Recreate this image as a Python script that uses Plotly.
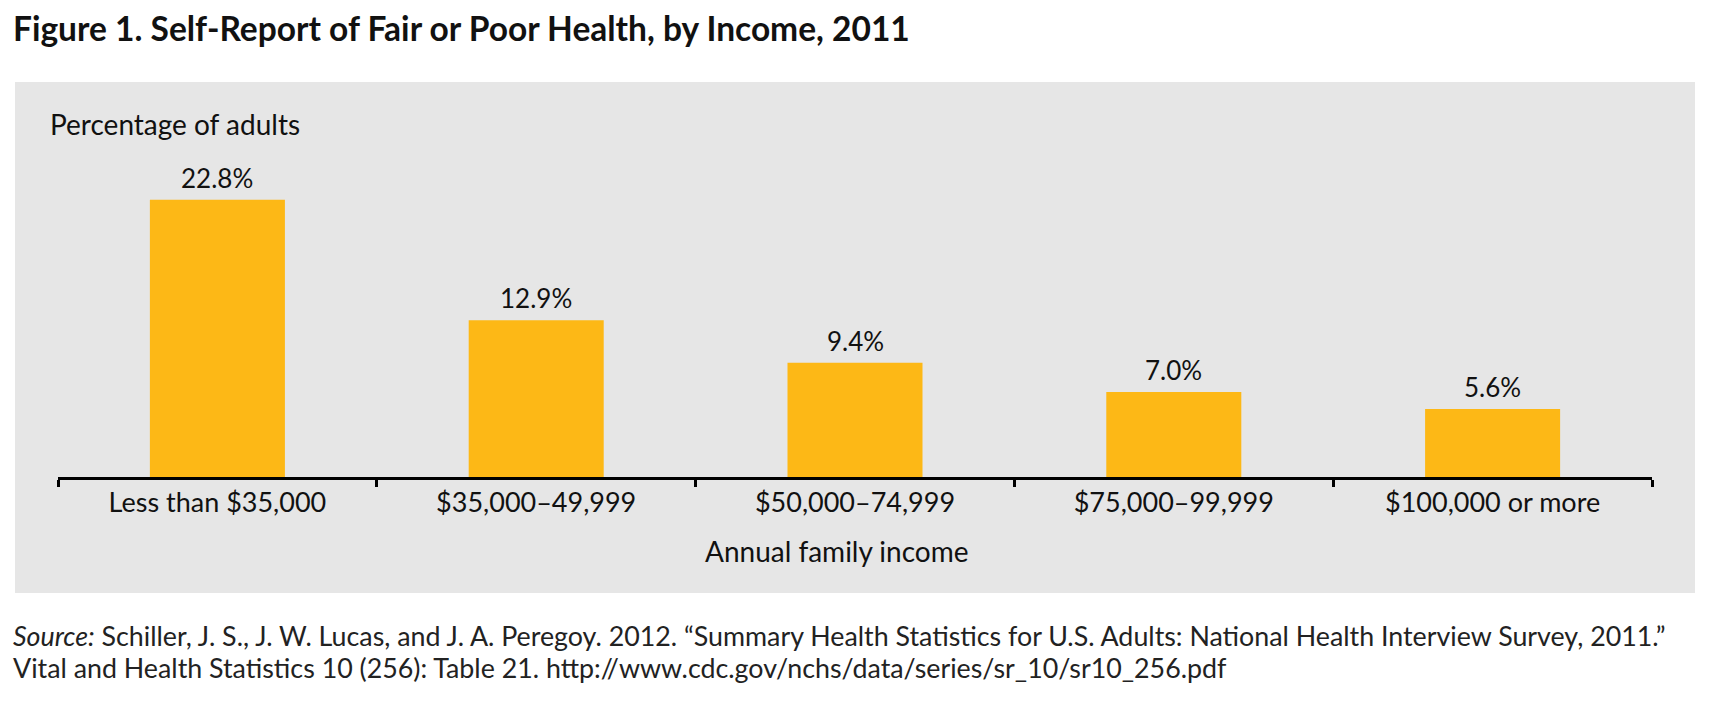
import plotly.graph_objects as go

# data
categories = ["Less than $35,000", "$35,000\u201349,999", "$50,000\u201374,999",
              "$75,000\u201399,999", "$100,000 or more"]
pct_fair_poor = [22.8, 12.9, 9.4, 7.0, 5.6]

title_text = "Figure 1. Self-Report of Fair or Poor Health, by Income, 2011"
y_label = "Percentage of adults"
x_label = "Annual family income"
source_lines = [
    "<i>Source:</i> Schiller, J. S., J. W. Lucas, and J. A. Peregoy. 2012. "
    "\u201cSummary Health Statistics for U.S. Adults: National Health Interview Survey, 2011.\u201d",
    "Vital and Health Statistics 10 (256): Table 21. "
    "http://www.cdc.gov/nchs/data/series/sr_10/sr10_256.pdf",
]

FONT = "Lato"
BAR = "#FDB816"
PANEL = "#E6E6E6"
TXT = "#111111"

fig = go.Figure()

fig.add_trace(go.Bar(
    x=categories, y=pct_fair_poor,
    marker=dict(color=BAR, line=dict(width=0)),
    width=0.4235,
    hoverinfo="skip",
))

# value labels above the bars
for cat, val in zip(categories, pct_fair_poor):
    fig.add_annotation(x=cat, y=val, text=f"{val:.1f}%", showarrow=False,
                       xanchor="center", yanchor="bottom", yshift=4,
                       font=dict(family=FONT, size=26, color=TXT))

# grey panel behind the chart
fig.add_shape(type="rect", xref="paper", yref="paper",
              x0=-0.02698, x1=1.02698, y0=-0.3816, y1=1.2993,
              fillcolor=PANEL, line=dict(width=0), layer="below")

fig.update_layout(
    width=1704, height=700,
    margin=dict(l=50, r=60, t=165, b=231),
    paper_bgcolor="white", plot_bgcolor="rgba(0,0,0,0)",
    showlegend=False,
    font=dict(family=FONT, color=TXT),
    title=dict(text="<b>" + title_text + "</b>", xref="container", yref="container",
               x=5 / 1704, xanchor="left", y=1 - 21.5 / 700, yanchor="middle",
               font=dict(family=FONT, size=33.5, color=TXT)),
)

fig.update_xaxes(
    showline=True, linecolor="black", linewidth=3,
    ticks="outside", tickson="boundaries", ticklen=7, tickwidth=3, tickcolor="black",
    tickfont=dict(family=FONT, size=27, color=TXT),
    showgrid=False, zeroline=False, fixedrange=True,
)
fig.update_yaxes(range=[0, 25], visible=False, fixedrange=True)

# axis labels and source note
fig.add_annotation(text=y_label, xref="paper", yref="paper", x=-0.006, y=1.1628,
                   xanchor="left", yanchor="middle", showarrow=False,
                   font=dict(family=FONT, size=28, color=TXT))
fig.add_annotation(text=x_label, xref="paper", yref="paper", x=0.4887, y=-0.2418,
                   xanchor="center", yanchor="middle", showarrow=False,
                   font=dict(family=FONT, size=28, color=TXT))
for i, line in enumerate(source_lines):
    fig.add_annotation(text=line, xref="paper", yref="paper", x=-0.0295,
                       y=[-0.523, -0.6283][i], xanchor="left", yanchor="middle",
                       showarrow=False, font=dict(family=FONT, size=26.8, color="#222222"))

fig.write_html("out.html")
